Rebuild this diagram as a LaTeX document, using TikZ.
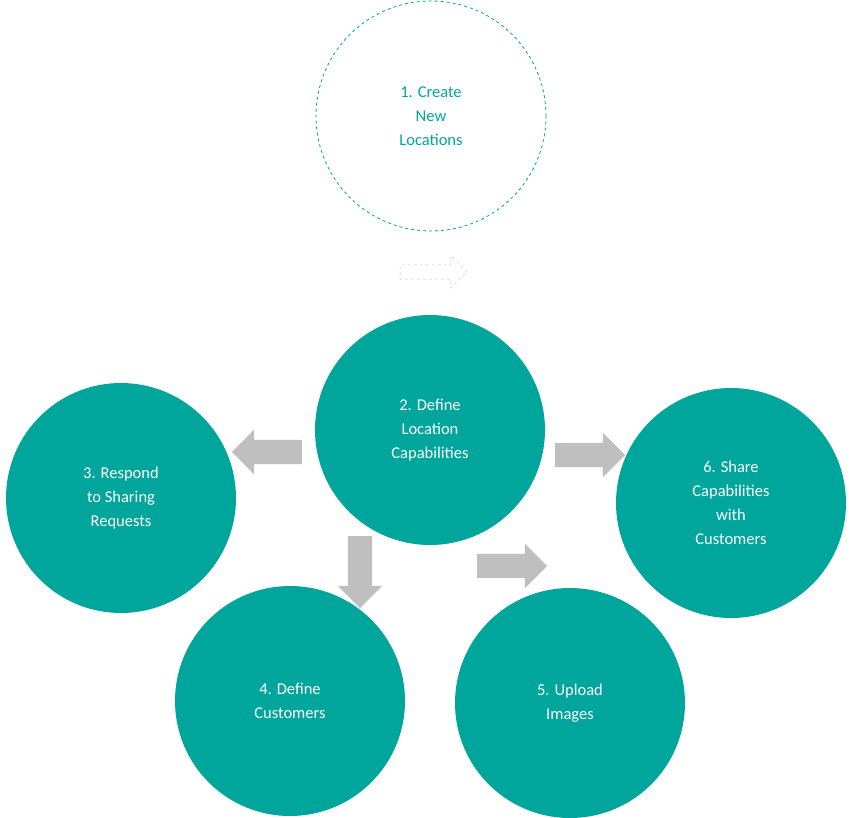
\documentclass[tikz,border=0pt]{standalone}
\usepackage{fontspec}
\setmainfont{Carlito}
\usetikzlibrary{shapes.arrows}
\definecolor{teal1}{HTML}{00A69C}
\definecolor{gr}{HTML}{BFBFBF}
\begin{document}
\begin{tikzpicture}[x=1pt,y=-1pt,
  circ/.style={circle,fill=teal1,minimum size=230pt,inner sep=0pt,text=white,font=\fontsize{16.5pt}{24pt}\selectfont,align=center},
  dcirc/.style={circle,draw=teal1,thick,dashed,minimum size=230pt,inner sep=0pt,text=teal1,font=\fontsize{16.5pt}{24pt}\selectfont,align=center},
  barr/.style={single arrow,fill=gr,inner sep=12pt,single arrow head extend=10pt,single arrow head indent=0pt,minimum height=70pt,outer sep=0pt}]
\useasboundingbox (0,0) rectangle (854,818);
\node[dcirc] (c1) at (431,116) {1. Create\\New\\Locations};
\node[circ] (c2) at (430,430) {2. Define\\Location\\Capabilities};
\node[circ] (c3) at (121,498) {3. Respond\\to Sharing\\Requests};
\node[circ] (c4) at (290,701) {4. Define\\Customers};
\node[circ] (c5) at (570,703) {5. Upload\\Images};
\node[circ] (c6) at (731,503) {6. Share\\Capabilities\\with\\Customers};
\node[single arrow,draw=gr,dashed,inner sep=7pt,single arrow head extend=9pt,single arrow head indent=0pt,minimum height=67pt,shape border rotate=-90] (a1) at (430,272) {};
\node[barr,shape border rotate=205] (a3) at (273,452) {};
\node[barr,shape border rotate=-26] (a6) at (584,455) {};
\node[barr,shape border rotate=226,minimum height=72pt] (a4) at (360,566) {};
\node[barr,shape border rotate=-48,minimum height=70pt] (a5) at (506,566) {};
\end{tikzpicture}
\end{document}
